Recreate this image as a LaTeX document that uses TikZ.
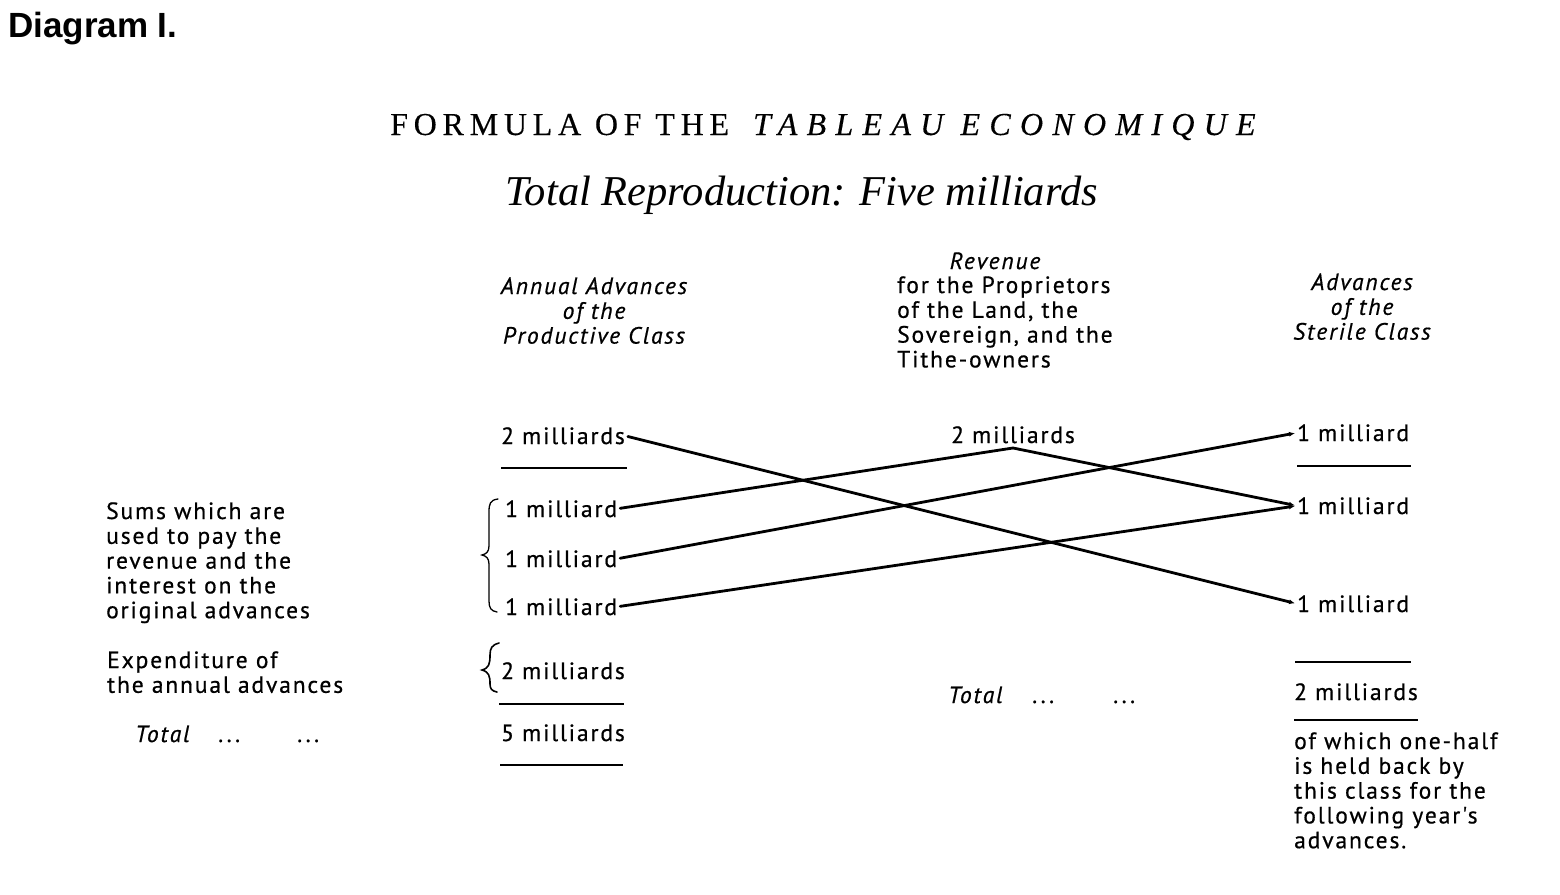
\documentclass[tikz,border=0pt]{standalone}
\usepackage{fontspec}
\setmainfont{Liberation Serif}
\newfontfamily\gill[LetterSpace=8,FakeBold=0.6]{PT Sans}
\newfontfamily\titleup[LetterSpace=18,FakeBold=0.3]{Liberation Serif}
\newfontfamily\titleit[LetterSpace=29,FakeBold=0.3]{Liberation Serif}
\newfontfamily\labelfont{Liberation Sans}
\usetikzlibrary{arrows.meta}
\newcommand{\mlines}[2]{\begin{tabular}[t]{@{}#1@{}}#2\end{tabular}}
\begin{document}
\begin{tikzpicture}[x=1pt,y=-1pt,
  txt/.style={inner sep=0pt, anchor=base west, font=\gill\fontsize{23.5}{24.8}\selectfont},
  ctxt/.style={txt, anchor=base},
  flow/.style={line width=2.8pt, line cap=round, line join=round},
  tip/.style={-{Latex[length=6pt,width=5pt]}},
  rulex/.style={line width=2.8pt},
  bracex/.style={line width=1.3pt, line cap=round}]
\useasboundingbox[fill=white] (0,0) rectangle (1560,894);

% caption
\node[inner sep=0pt, anchor=base west, font=\labelfont\bfseries\fontsize{35}{40}\selectfont] (cap) at (8,37) {Diagram I.};

% titles
\node[inner sep=0pt, anchor=base west] (title) at (390,135)
  {\fontsize{32}{36}\selectfont{\titleup FORMULA OF THE}\hspace{24pt}{\titleit\itshape TABLEAU ECONOMIQUE}};
\node[inner sep=0pt, anchor=base west, font=\itshape\fontsize{42.5}{46}\selectfont] (sub) at (505,205)
  {Total Reproduction: Five milliards};

% column headers
\node[ctxt] (hA) at (594,294) {\itshape\mlines{c}{Annual Advances\\of the\\Productive Class}};
\node[ctxt] (hB1) at (995,269) {\itshape Revenue};
\node[txt] (hB2) at (897,293) {\mlines{l}{for the Proprietors\\of the Land, the\\Sovereign, and the\\Tithe-owners}};
\node[ctxt] (hC) at (1362,290) {\itshape\mlines{c}{Advances\\of the\\Sterile Class}};

% left descriptions
\node[txt] (sums) at (106,519) {\mlines{l}{Sums which are\\used to pay the\\revenue and the\\interest on the\\original advances}};
\node[txt] (expd) at (107,668) {\mlines{l}{Expenditure of\\the annual advances}};
\node[txt] (ltot) at (135,742) {\itshape Total};
\node[txt] (ldots1) at (218,742) {...};
\node[txt] (ldots2) at (297,742) {...};

% productive class column
\node[txt] (l2) at (501,444) {2 milliards};
\node[txt] (l1a) at (505,517) {1 milliard};
\node[txt] (l1b) at (505,567) {1 milliard};
\node[txt] (l1c) at (505,615) {1 milliard};
\node[txt] (l2b) at (501,679) {2 milliards};
\node[txt] (l5) at (501,741) {5 milliards};
\draw[rulex] (501,468) -- (627,468);
\draw[rulex] (499,704) -- (624,704);
\draw[rulex] (500,765) -- (623,765);

% braces
\draw[bracex] (498,499) .. controls (490,500) and (489,504) .. (489,512)
  -- (489,546) .. controls (489,552) and (486,554) .. (482,555)
  .. controls (486,556) and (489,558) .. (489,564)
  -- (489,601) .. controls (489,608) and (491,611) .. (497,612);
\draw[line width=1.6pt, line cap=round] (499,643) .. controls (492,645) and (490,648) .. (490,655)
  .. controls (490,664) and (489,668) .. (482,670)
  .. controls (489,672) and (490,676) .. (490,684)
  .. controls (490,689) and (492,691) .. (497,692);

% revenue column
\node[txt] (c2) at (951,443) {2 milliards};
\coordinate (v) at (1013,448);
\node[txt] (ctot) at (948,703) {\itshape Total};
\node[txt] (cdots1) at (1032,703) {...};
\node[txt] (cdots2) at (1113,703) {...};

% sterile class column
\node[txt] (r1a) at (1297,441) {1 milliard};
\node[txt] (r1b) at (1297,514) {1 milliard};
\node[txt] (r1c) at (1297,612) {1 milliard};
\node[txt] (r2) at (1294,700) {2 milliards};
\node[txt] (rnote) at (1294,749) {\mlines{l}{of which one-half\\is held back by\\this class for the\\following year's\\advances.}};
\draw[rulex] (1297,466) -- (1411,466);
\draw[rulex] (1295,662) -- (1411,662);
\draw[rulex] (1294,720) -- (1418,720);

% flows
\draw[flow, tip, shorten <=3pt, shorten >=2pt] (l2.east) -- (r1c.west);
\draw[flow, tip, shorten <=3pt, shorten >=2pt] (l1a.east) -- (v) -- (r1b.west);
\draw[flow, tip, shorten <=3pt, shorten >=2pt] (l1b.east) -- (r1a.west);
\draw[flow, tip, shorten <=3pt, shorten >=2pt] (l1c.east) -- (r1b.west);
\end{tikzpicture}
\end{document}
